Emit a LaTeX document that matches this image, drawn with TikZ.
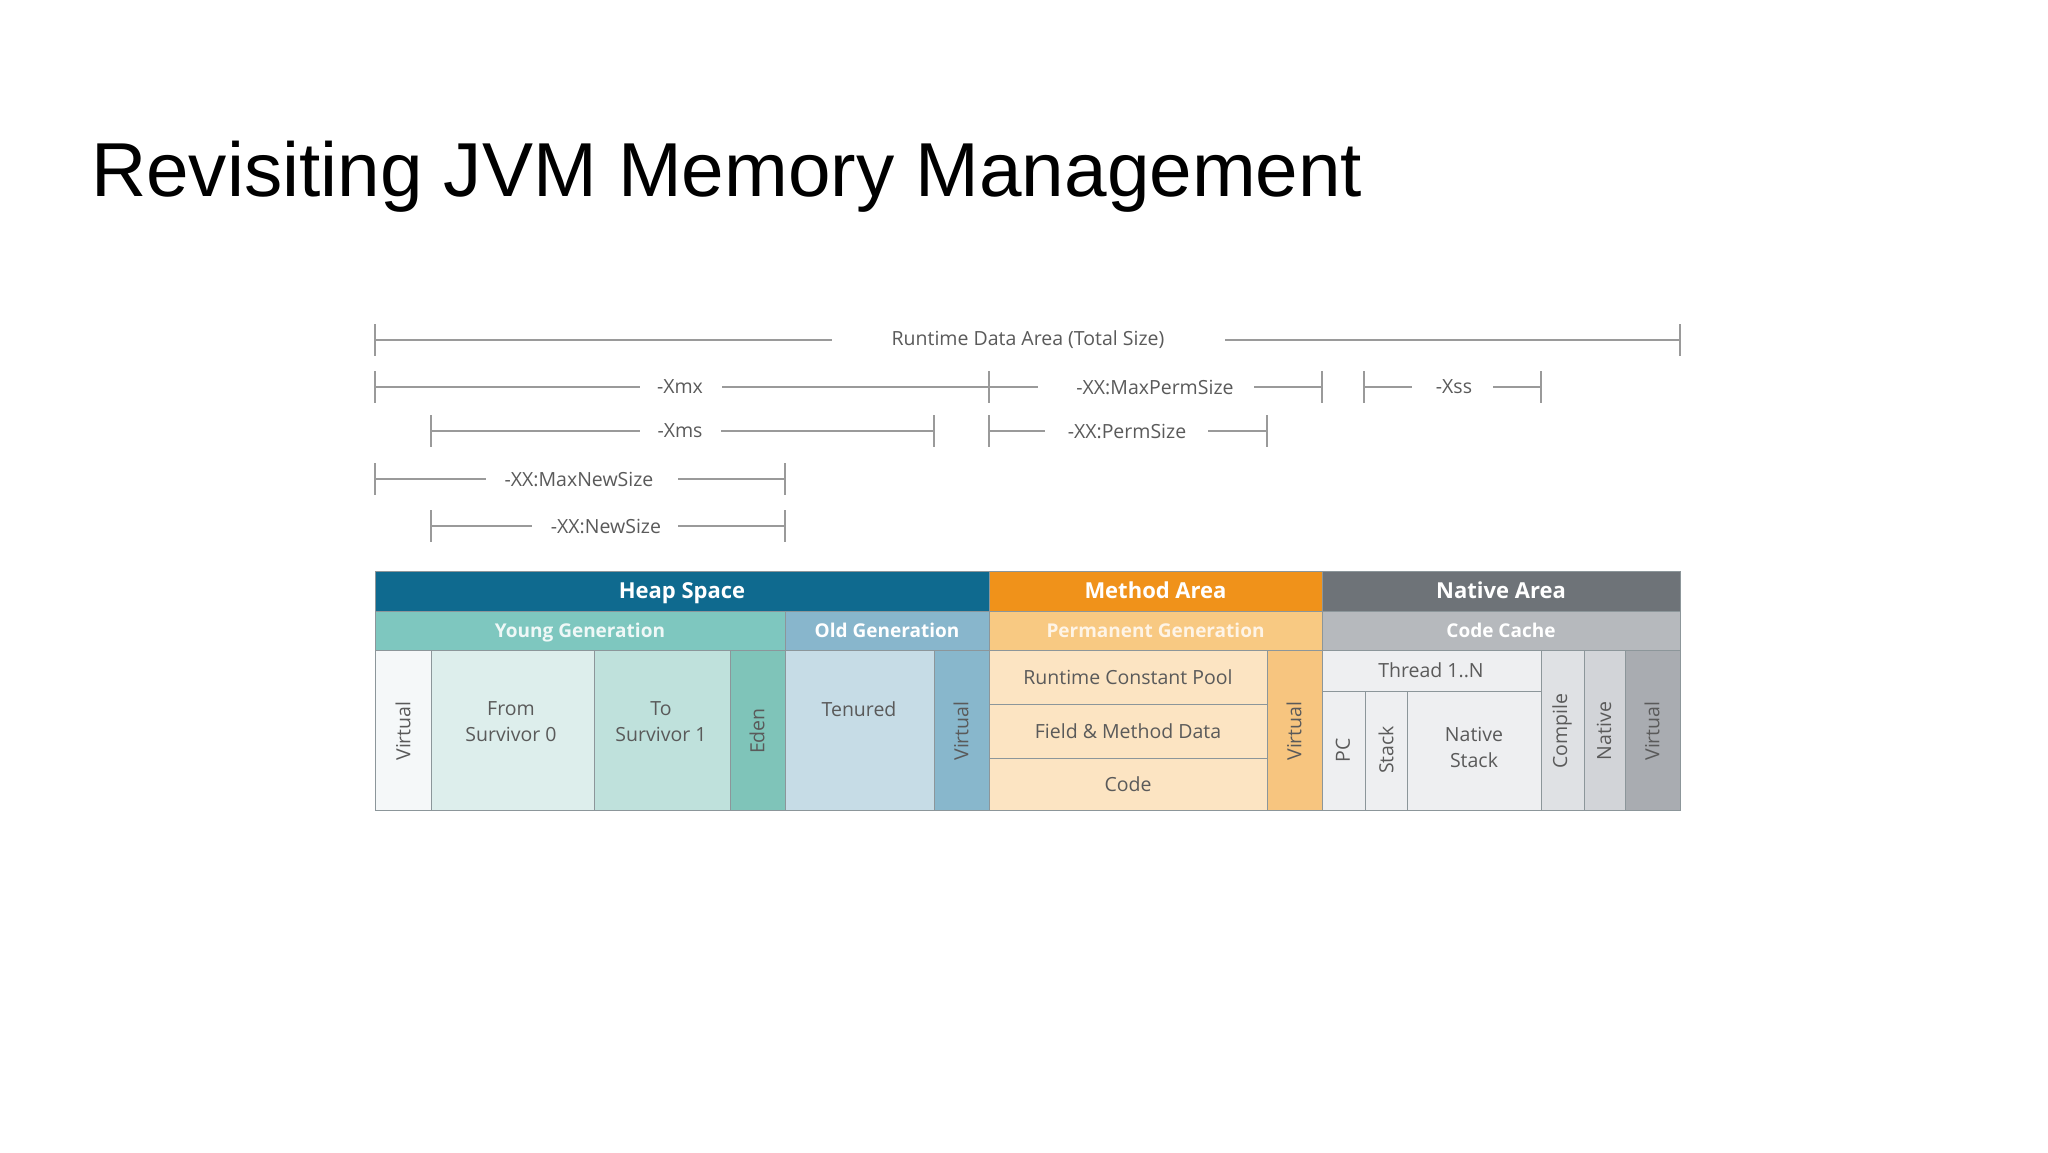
\documentclass[tikz,border=0pt]{standalone}
\usepackage{fontspec}
\setmainfont{Open Sans}
\newfontfamily\titlefont{Liberation Sans}
\definecolor{heapC}{HTML}{0F6A8F}
\definecolor{youngC}{HTML}{7EC7BF}
\definecolor{oldC}{HTML}{88B6CC}
\definecolor{hvirtC}{HTML}{F5F8F9}
\definecolor{fromC}{HTML}{DDEEEC}
\definecolor{toC}{HTML}{BFE1DC}
\definecolor{edenC}{HTML}{7FC4B9}
\definecolor{tenC}{HTML}{C6DCE6}
\definecolor{ovirtC}{HTML}{88B7CC}
\definecolor{methodC}{HTML}{F0921A}
\definecolor{permC}{HTML}{F8C982}
\definecolor{mboxC}{HTML}{FCE4C2}
\definecolor{mvirtC}{HTML}{F7C57F}
\definecolor{nativeC}{HTML}{6E7378}
\definecolor{ccacheC}{HTML}{B6B9BD}
\definecolor{nboxC}{HTML}{EEEFF1}
\definecolor{compC}{HTML}{DFE1E4}
\definecolor{natC}{HTML}{D2D4D8}
\definecolor{nvirtC}{HTML}{A9ACB1}
\definecolor{dimC}{HTML}{9A9A9A}
\definecolor{txtC}{HTML}{5A5A5A}
\definecolor{borderC}{HTML}{8C969A}
\tikzset{
  cellbox/.style={draw=borderC, line width=0.9pt, inner sep=0pt, outer sep=0pt},
  hdr/.style={cellbox, text=white, font=\fontsize{22}{24}\selectfont\bfseries, text height=15.6pt, text depth=0pt},
  subhdr/.style={cellbox, font=\fontsize{19}{21}\selectfont\bfseries, text height=13.5pt, text depth=0pt},
  celltxt/.style={text=txtC, font=\fontsize{19.5}{26}\selectfont, align=center, inner sep=0pt},
  vtxt/.style={celltxt, rotate=90},
  dim/.style={draw=dimC, line width=1.4pt},
  dimlbl/.style={text=txtC, font=\fontsize{19.5}{22}\selectfont, inner sep=0pt}
}
\newcommand{\mcell}[7]{%
  \pgfmathsetmacro{\mcw}{#5-#3}\pgfmathsetmacro{\mch}{#6-#4}%
  \node[#1, minimum width=\mcw pt, minimum height=\mch pt, anchor=north west] (#2) at (#3,#4) {#7};}
\newcommand{\dimline}[8]{%
  \coordinate (#1-l) at (#3,#2); \coordinate (#1-r) at (#4,#2);
  \coordinate (#1-gl) at (#5,#2); \coordinate (#1-gr) at (#6,#2);
  \node[dimlbl] (#1-t) at (#7,#2) {#8};
  \draw[dim] (#1-l) -- (#1-gl);
  \draw[dim] (#1-gr) -- (#1-r);
  \draw[dim] ([yshift=16pt]#1-l) -- ([yshift=-16pt]#1-l);
  \draw[dim] ([yshift=16pt]#1-r) -- ([yshift=-16pt]#1-r);}
\begin{document}
\begin{tikzpicture}[x=1pt,y=-1pt]
\useasboundingbox (0,0) rectangle (2048,1152);
\fill[white] (0,0) rectangle (2048,1152);
% title
\node[anchor=base west, inner sep=0pt, font=\titlefont\fontsize{76.5}{80}\selectfont] (title) at (91,196) {Revisiting JVM Memory Management};
% dimension lines
\dimline{rda}{340}{375}{1680}{832}{1225}{1028}{Runtime Data Area (Total Size)}
\dimline{xmx}{387}{375}{989}{640}{722}{680}{-Xmx}
\dimline{mps}{387}{989}{1322}{1038}{1254}{1155}{-XX:MaxPermSize}
\dimline{xss}{387}{1364}{1541}{1412}{1493}{1454}{-Xss}
\dimline{xms}{431}{431}{934}{640}{721}{680}{-Xms}
\dimline{ps}{431}{989}{1267}{1045}{1208}{1127}{-XX:PermSize}
\dimline{mns}{479}{375}{785}{486}{678}{579}{-XX:MaxNewSize}
\dimline{ns}{526}{431}{785}{532}{678}{606}{-XX:NewSize}
% headers
\mcell{hdr, fill=heapC}{heap}{375}{571}{989}{611}{Heap Space}
\mcell{hdr, fill=methodC}{method}{989}{571}{1322}{611}{Method Area}
\mcell{hdr, fill=nativeC}{native}{1322}{571}{1680}{611}{Native Area}
\mcell{subhdr, fill=youngC, text=white!88!youngC}{young}{375}{611}{785}{650}{Young Generation}
\mcell{subhdr, fill=oldC, text=white}{old}{785}{611}{989}{650}{Old Generation}
\mcell{subhdr, fill=permC, text=white!80!permC}{perm}{989}{611}{1322}{650}{Permanent Generation}
\mcell{subhdr, fill=ccacheC, text=white}{ccache}{1322}{611}{1680}{650}{Code Cache}
% heap body
\mcell{cellbox, fill=hvirtC}{hvirt}{375}{650}{431}{810}{}
\mcell{cellbox, fill=fromC}{from}{431}{650}{594}{810}{}
\mcell{cellbox, fill=toC}{to}{594}{650}{730}{810}{}
\mcell{cellbox, fill=edenC}{eden}{730}{650}{785}{810}{}
\mcell{cellbox, fill=tenC}{ten}{785}{650}{934}{810}{}
\mcell{cellbox, fill=ovirtC}{ovirt}{934}{650}{989}{810}{}
% method body
\mcell{cellbox, fill=mboxC}{rcp}{989}{650}{1267}{704}{}
\mcell{cellbox, fill=mboxC}{fmd}{989}{704}{1267}{758}{}
\mcell{cellbox, fill=mboxC}{code}{989}{758}{1267}{810}{}
\mcell{cellbox, fill=mvirtC}{mvirt}{1267}{650}{1322}{810}{}
% native body
\mcell{cellbox, fill=nboxC}{thread}{1322}{650}{1541}{691}{}
\mcell{cellbox, fill=nboxC}{pc}{1322}{691}{1365}{810}{}
\mcell{cellbox, fill=nboxC}{stack}{1365}{691}{1407}{810}{}
\mcell{cellbox, fill=nboxC}{nstack}{1407}{691}{1541}{810}{}
\mcell{cellbox, fill=compC}{compile}{1541}{650}{1584}{810}{}
\mcell{cellbox, fill=natC}{nat}{1584}{650}{1625}{810}{}
\mcell{cellbox, fill=nvirtC}{nvirt}{1625}{650}{1680}{810}{}
% texts
\node[vtxt] (hvirt-t) at (403,731) {Virtual};
\node[celltxt] (from-t) at (511,722) {From\\Survivor 0};
\node[celltxt] (to-t) at (661,722) {To\\Survivor 1};
\node[vtxt] (eden-t) at (757,731) {Eden};
\node[celltxt] (ten-t) at (859,709) {Tenured};
\node[vtxt] (ovirt-t) at (961,731) {Virtual};
\node[celltxt] (rcp-t) at (1128,677) {Runtime Constant Pool};
\node[celltxt] (fmd-t) at (1128,731) {Field \& Method Data};
\node[celltxt] (code-t) at (1128,784) {Code};
\node[vtxt] (mvirt-t) at (1294,731) {Virtual};
\node[celltxt] (thread-t) at (1431,670) {Thread 1..N};
\node[vtxt] (pc-t) at (1343,750) {PC};
\node[vtxt] (stack-t) at (1386,750) {Stack};
\node[celltxt] (nstack-t) at (1474,747) {Native\\Stack};
\node[vtxt] (compile-t) at (1562,731) {Compile};
\node[vtxt] (nat-t) at (1604,731) {Native};
\node[vtxt] (nvirt-t) at (1652,731) {Virtual};
\end{tikzpicture}
\end{document}
